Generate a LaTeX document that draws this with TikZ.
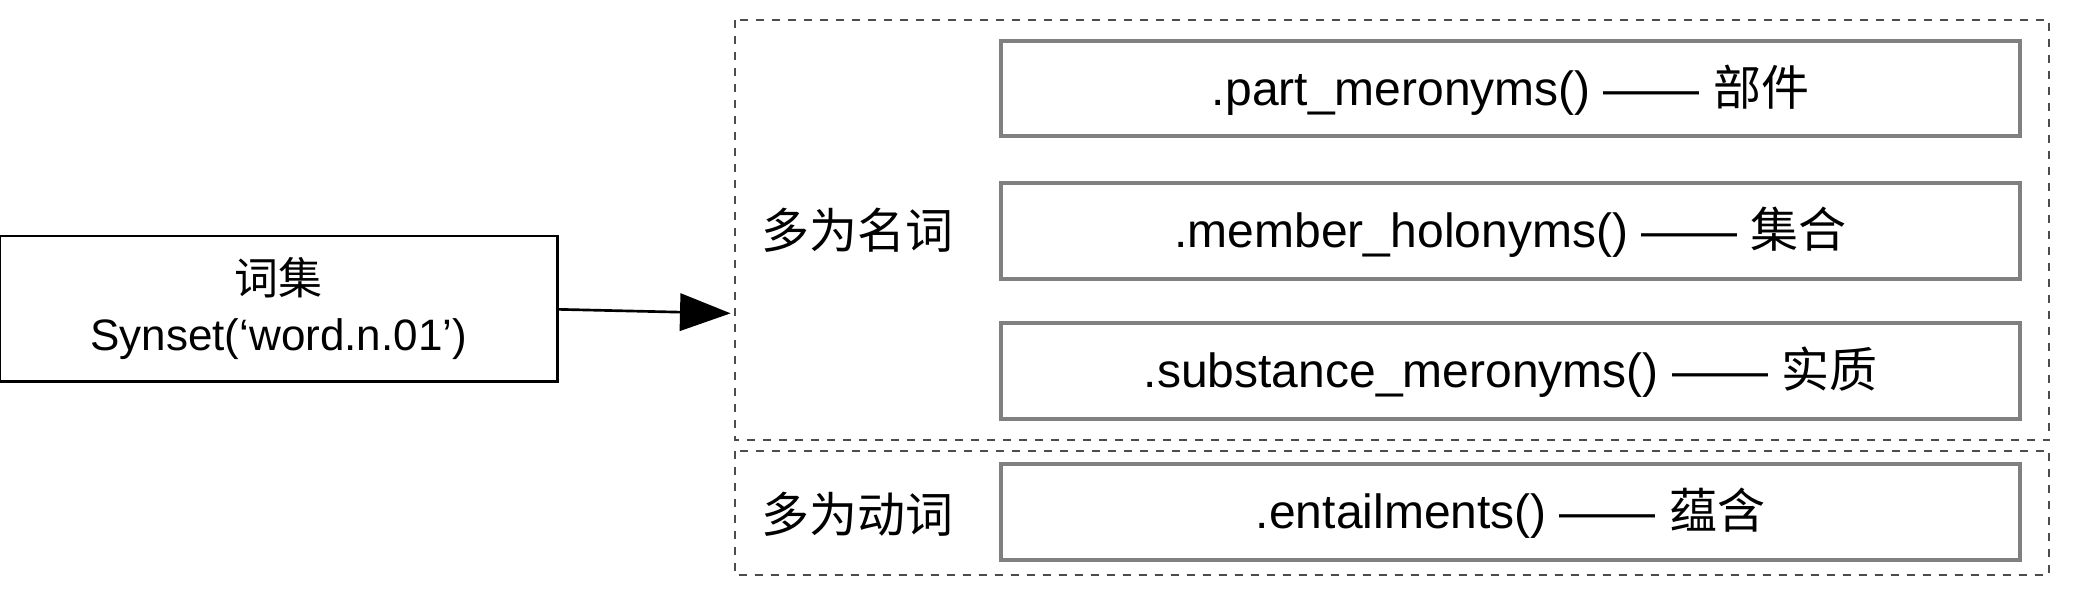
\documentclass[tikz,border=0pt]{standalone}
\usepackage{fontspec}
\setmainfont{Liberation Sans}
\newfontfamily\cjk{Noto Sans CJK SC}
\usetikzlibrary{arrows.meta}
\begin{document}
\begin{tikzpicture}[x=0.5pt,y=-0.5pt,
  ibox/.style={draw=black!50,line width=1.6pt},
  dbox/.style={draw=black!70,dashed,line width=0.7pt},
  lbl/.style={font=\fontsize{18}{22}\selectfont}]
\useasboundingbox (0,0) rectangle (1563,442);
\draw[line width=1pt] (0,177) rectangle (418,286);
\node[lbl,align=center,font=\fontsize{16.5}{21}\selectfont] (src) at (209,231.5) {{\cjk 词集}\\Synset(‘word.n.01’)};
\coordinate (srcE) at (418,232);
\draw[dbox] (551,15) rectangle (1537,330);
\draw[dbox] (551,338) rectangle (1537,431);
\coordinate (tgt) at (548,235);
\draw[line width=1pt,-{Triangle[length=19pt,width=14pt]}] (srcE) -- (tgt);
\node[lbl] (n) at (643,173) {\cjk 多为名词};
\node[lbl] (v) at (643,386) {\cjk 多为动词};
\draw[ibox] (751,31) rectangle (1515,102);
\node[lbl] (a) at (1133,68) {.part\_meronyms() —— {\cjk 部件}};
\draw[ibox] (751,137) rectangle (1515,209);
\node[lbl] (b) at (1133,174) {.member\_holonyms() —— {\cjk 集合}};
\draw[ibox] (751,242) rectangle (1515,314);
\node[lbl] (c) at (1133,279) {.substance\_meronyms() —— {\cjk 实质}};
\draw[ibox] (751,348) rectangle (1515,420);
\node[lbl] (d) at (1133,385) {.entailments() —— {\cjk 蕴含}};
\end{tikzpicture}
\end{document}
